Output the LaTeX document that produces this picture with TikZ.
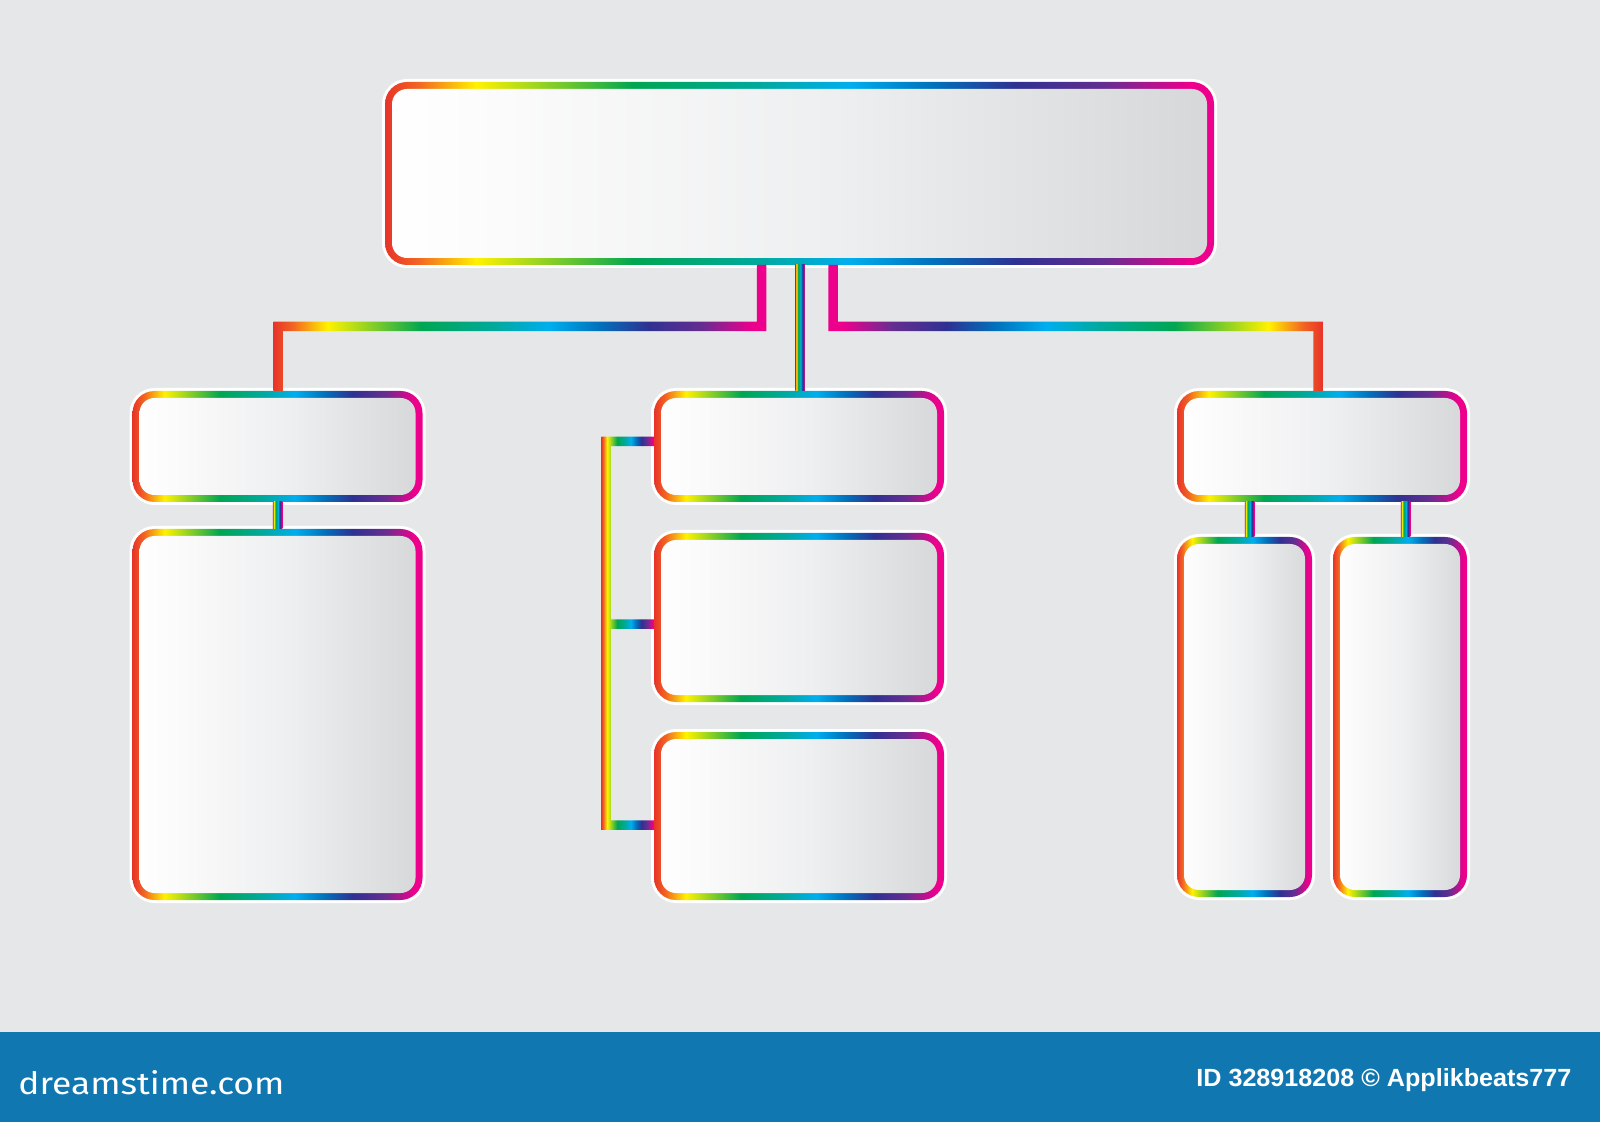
\documentclass[tikz,border=0pt]{standalone}
\usepackage{fontspec}
\newfontfamily\logofont{Fira Sans}
\newfontfamily\idfont{Liberation Sans}
\definecolor{bgc}{RGB}{230,231,232}
\definecolor{bannerc}{RGB}{17,119,176}
\definecolor{rbred}{RGB}{231,51,42}
\definecolor{rborange}{RGB}{242,101,34}
\definecolor{rbyellow}{RGB}{255,242,0}
\definecolor{rbgreen}{RGB}{0,166,81}
\definecolor{rbteal}{RGB}{0,169,157}
\definecolor{rbcyan}{RGB}{0,174,239}
\definecolor{rbblue}{RGB}{0,114,188}
\definecolor{rbdblue}{RGB}{46,49,146}
\definecolor{rbpurple}{RGB}{102,45,145}
\definecolor{rbmag}{RGB}{236,0,140}
\definecolor{fillA}{RGB}{251,251,251}
\definecolor{fillB}{RGB}{238,239,240}
\definecolor{fillC}{RGB}{214,215,217}
\pgfdeclarehorizontalshading{rainbow}{100bp}{color(0bp)=(rbred); color(25bp)=(rbred); color(27bp)=(rborange); color(30.5bp)=(rbyellow); color(40bp)=(rbgreen); color(47.5bp)=(rbteal); color(53bp)=(rbcyan); color(58bp)=(rbblue); color(63bp)=(rbdblue); color(68.5bp)=(rbpurple); color(73.5bp)=(rbmag); color(100bp)=(rbmag)}
\pgfdeclarehorizontalshading{boxfill}{100bp}{color(0bp)=(white); color(25bp)=(white); color(32bp)=(fillA); color(52bp)=(fillB); color(75bp)=(fillC); color(100bp)=(fillC)}
\def\conhw{2.375pt}
\tikzset{
  box/.style={rectangle, rounded corners=11pt, inner sep=0pt, outer sep=0pt,
    preaction={draw=white, line width=3pt},
    shade, shading=rainbow,
    path picture={\shade[shading=boxfill, rounded corners=7.5pt]
      ([xshift=3.5pt,yshift=3.5pt]path picture bounding box.south west) rectangle
      ([xshift=-3.5pt,yshift=-3.5pt]path picture bounding box.north east);}},
  conn/.style={shading=rainbow},
  rconn/.style={shading=rainbow, shading angle=180},
  bannertext/.style={text=white, inner sep=0pt, anchor=base west}
}
\begin{document}
\begin{tikzpicture}[x=0.5pt,y=-0.5pt]
\useasboundingbox (0,0) rectangle (1600,1122);
\fill[bgc] (0,0) rectangle (1600,1122);
\fill[bannerc] (0,1032) rectangle (1600,1122);

% boxes
\node[box, minimum width=414.5pt, minimum height=91.5pt] (top) at (799.5,173.5) {};
\node[box, minimum width=145pt, minimum height=55.5pt] (L1) at (277.5,446.5) {};
\node[box, minimum width=145pt, minimum height=185.5pt] (L2) at (277.5,714.5) {};
\node[box, minimum width=145pt, minimum height=55.5pt] (M1) at (799,446.5) {};
\node[box, minimum width=145pt, minimum height=84.5pt] (M2) at (799,617.5) {};
\node[box, minimum width=145pt, minimum height=84pt] (M3) at (799,816) {};
\node[box, minimum width=145pt, minimum height=55.5pt] (R1) at (1322,446.5) {};
\node[box, minimum width=67.5pt, minimum height=180pt] (R2a) at (1244.5,717) {};
\node[box, minimum width=67pt, minimum height=180pt] (R2b) at (1400,717) {};

% connector waypoints
\coordinate (lA) at (761.5,0 |- top.south);
\coordinate (lB) at (761.5,326.5);
\coordinate (lC) at (278,326.5);
\coordinate (lD) at (278,0 |- L1.north);
\coordinate (rA) at (833,0 |- top.south);
\coordinate (rB) at (833,326.5);
\coordinate (rC) at (1318,326.5);
\coordinate (rD) at (1318,0 |- R1.north);
\coordinate (mA) at (800,0 |- top.south);
\coordinate (mB) at (800,0 |- M1.north);
\coordinate (sL1) at (277.5,0 |- L1.south);
\coordinate (sL2) at (277.5,0 |- L2.north);
\coordinate (sRa1) at (1249.5,0 |- R1.south);
\coordinate (sRa2) at (1249.5,0 |- R2a.north);
\coordinate (sRb1) at (1405.5,0 |- R1.south);
\coordinate (sRb2) at (1405.5,0 |- R2b.north);
\coordinate (b1) at (606,441.5);
\coordinate (b2) at (606,624);
\coordinate (b3) at (606,825);
\coordinate (e1) at (M1.west |- b1);
\coordinate (e2) at (M2.west |- b2);
\coordinate (e3) at (M3.west |- b3);

% top -> L1
\shade[conn] ([xshift=-\conhw]lA) rectangle ([xshift=\conhw,yshift=-\conhw]lB)
  ([xshift=-\conhw,yshift=\conhw]lC) rectangle ([xshift=\conhw,yshift=-\conhw]lB)
  ([xshift=-\conhw,yshift=\conhw]lC) rectangle ([xshift=\conhw]lD);
% top -> R1
\shade[rconn] ([xshift=-\conhw]rA) rectangle ([xshift=\conhw,yshift=-\conhw]rB)
  ([xshift=-\conhw,yshift=\conhw]rB) rectangle ([xshift=\conhw,yshift=-\conhw]rC)
  ([xshift=-\conhw,yshift=\conhw]rC) rectangle ([xshift=\conhw]rD);
% top -> M1
\shade[conn] ([xshift=-\conhw]mA) rectangle ([xshift=\conhw]mB);
% short connectors
\shade[conn] ([xshift=-\conhw]sL1) rectangle ([xshift=\conhw]sL2);
\shade[conn] ([xshift=-\conhw]sRa1) rectangle ([xshift=\conhw]sRa2);
\shade[conn] ([xshift=-\conhw]sRb1) rectangle ([xshift=\conhw]sRb2);
% bracket M1/M2/M3
\shade[conn] ([xshift=-\conhw,yshift=\conhw]b1) rectangle ([xshift=\conhw,yshift=-\conhw]b3)
  ([xshift=-\conhw,yshift=\conhw]b1) rectangle ([yshift=-\conhw]e1)
  ([xshift=-\conhw,yshift=\conhw]b2) rectangle ([yshift=-\conhw]e2)
  ([xshift=-\conhw,yshift=\conhw]b3) rectangle ([yshift=-\conhw]e3);

% banner texts
\node[bannertext] (logo) at (18,1094) {\resizebox{133pt}{12pt}{\logofont dreamstime.com}};
\node[bannertext] (imgid) at (1196,1086) {\resizebox{187.5pt}{9pt}{\idfont\bfseries ID 328918208 © Applikbeats777}};
\end{tikzpicture}
\end{document}
